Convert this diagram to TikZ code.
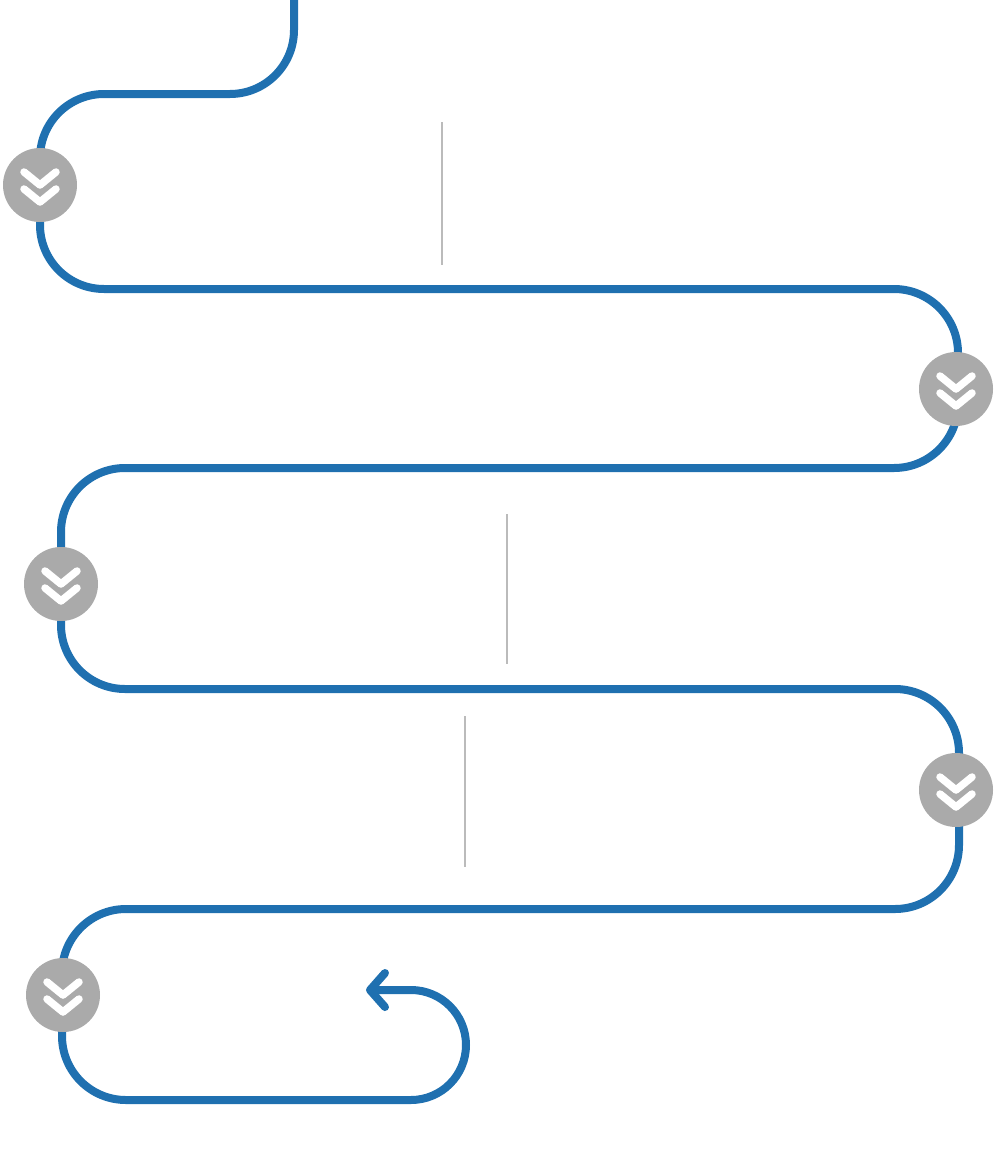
\documentclass[tikz,border=0pt]{standalone}
\usetikzlibrary{arrows.meta}
\definecolor{pathblue}{HTML}{1F70B0}
\definecolor{badge}{HTML}{AAAAAA}
\definecolor{divider}{HTML}{BBBBBB}
\tikzset{
  flow/.style={draw=pathblue,line width=8pt},
  stepmark/.style={circle,fill=badge,minimum size=74pt,inner sep=0pt},
  sepline/.style={draw=divider,line width=2.2pt},
  chev/.style={draw=white,line width=7.5pt,line cap=round,line join=round}
}
\newcommand{\chevrons}[1]{%
  \draw[chev] ([shift={(-16pt,13pt)}]#1.center) -- ([shift={(0pt,0pt)}]#1.center) -- ([shift={(16pt,13pt)}]#1.center);
  \draw[chev] ([shift={(-16pt,-4pt)}]#1.center) -- ([shift={(0pt,-17pt)}]#1.center) -- ([shift={(16pt,-4pt)}]#1.center);}
\begin{document}
\begin{tikzpicture}[x=1pt,y=-1pt]
\useasboundingbox (0,0) rectangle (1000,1164);
\draw[flow,-{Straight Barb[round,length=15pt,width=34pt]},rounded corners=64pt] (294,-5)--(294,94)--(40,94)--(40,289)--(958,289)--(958,468)--(61,468)--(61,689)--(959,689)--(959,909)--(62,909)--(62,1100)--(300,1100) [rounded corners=55pt] --(466,1100)--(466,990)--(366,990);
\draw[sepline] (442,122)--(442,265);
\draw[sepline] (507,514)--(507,664);
\draw[sepline] (465,716)--(465,867);
\node[stepmark] (s1) at (40,185) {};
\node[stepmark] (s2) at (956,389) {};
\node[stepmark] (s3) at (61,584) {};
\node[stepmark] (s4) at (956,790) {};
\node[stepmark] (s5) at (63,995) {};
\chevrons{s1}\chevrons{s2}\chevrons{s3}\chevrons{s4}\chevrons{s5}
\end{tikzpicture}
\end{document}
